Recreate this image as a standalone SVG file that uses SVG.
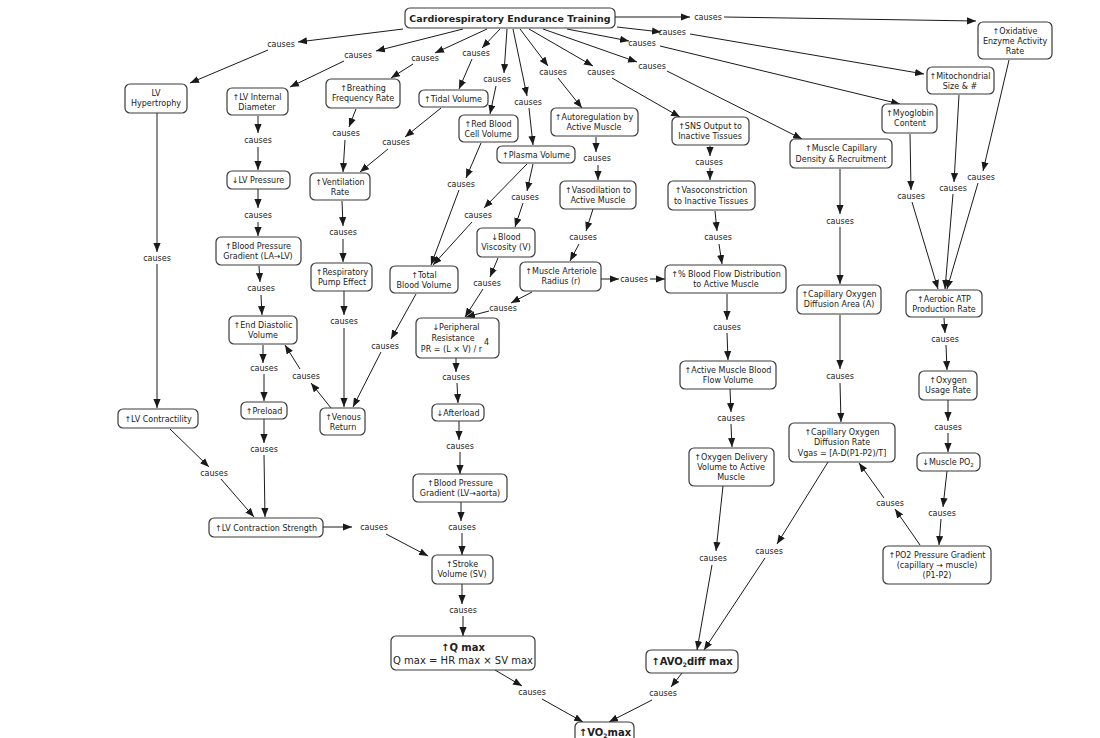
<svg xmlns="http://www.w3.org/2000/svg" width="1100" height="738" viewBox="0 0 1100 738">
<defs>
<marker id="ah" viewBox="0 0 10 8" refX="10" refY="4" markerWidth="9" markerHeight="7.5" orient="auto" markerUnits="userSpaceOnUse"><path d="M0,0 L10,4 L0,8 z" fill="#1a1a1a"/></marker>
<style>
text{font-family:"DejaVu Sans",Verdana,sans-serif;font-size:8px;fill:#222;text-anchor:middle}
.n rect{fill:#fff;stroke:#3a3a3a;stroke-width:1.2}
.b{font-weight:bold}
#connectors path{fill:none;stroke:#1a1a1a;stroke-width:1;marker-end:url(#ah)}
</style>
</defs>
<rect width="1100" height="738" fill="#fff"/>

<g id="connectors">
<g><path d="M615,17 L690,17"/><text x="708" y="20">causes</text><path d="M724,17 L976,21"/></g>
<g><path d="M617,27 L661,32"/><text x="672" y="35">causes</text><path d="M690,34 L924,74"/></g>
<g><path d="M567,29 L629,41"/><text x="642" y="46">causes</text><path d="M660,46 L900,104"/></g>
<g><path d="M543,29 L637,62"/><text x="652" y="69">causes</text><path d="M667,71 L802,139"/></g>
<g><path d="M529,29 L593,66"/><text x="601" y="75">causes</text><path d="M612,78 L680,117"/></g>
<g><path d="M520,29 L548,66"/><text x="553" y="75">causes</text><path d="M558,78 L582,108"/></g>
<g><path d="M513,29 L527,96"/><text x="528" y="105">causes</text><path d="M529,108 L533,145"/></g>
<g><path d="M507,29 L504,73"/><text x="497" y="82">causes</text><path d="M496,86 L490,114"/></g>
<g><path d="M500,29 L482,48"/><text x="476" y="56">causes</text><path d="M472,59 L459,89"/></g>
<g><path d="M487,29 L435,53"/><text x="425" y="61">causes</text><path d="M413,64 L391,78"/></g>
<g><path d="M463,29 L376,51"/><text x="358" y="58">causes</text><path d="M344,61 L290,87"/></g>
<g><path d="M403,29 L298,42"/><text x="281" y="47">causes</text><path d="M268,50 L190,83"/></g>

<g><path d="M258,116 L258,133"/><text x="258" y="143">causes</text><path d="M258,147 L258,170"/></g>
<g><path d="M258,189 L258,208"/><text x="258" y="218">causes</text><path d="M258,222 L258,236"/></g>
<g><path d="M259,266 L260,282"/><text x="261" y="291">causes</text><path d="M261,295 L262,315"/></g>
<g><path d="M263,345 L263,363"/><text x="264" y="371">causes</text><path d="M264,374 L264,401"/></g>
<g><path d="M264,419 L264,443"/><text x="264" y="452">causes</text><path d="M264,455 L265,517"/></g>
<g><path d="M331,408 L311,383"/><text x="306" y="379">causes</text><path d="M300,369 L285,345"/></g>
<g><path d="M157,113 L157,252"/><text x="157" y="261">causes</text><path d="M157,264 L157,408"/></g>
<g><path d="M170,429 L209,467"/><text x="214" y="476">causes</text><path d="M221,479 L254,517"/></g>
<g><path d="M323,527 L352,527"/><text x="374" y="530">causes</text><path d="M386,534 L428,556"/></g>

<g><path d="M356,109 L349,127"/><text x="346" y="136">causes</text><path d="M345,140 L343,172"/></g>
<g><path d="M441,108 L405,137"/><text x="396" y="145">causes</text><path d="M388,149 L360,172"/></g>
<g><path d="M342,201 L343,226"/><text x="343" y="235">causes</text><path d="M343,239 L343,262"/></g>
<g><path d="M344,291 L344,315"/><text x="344" y="324">causes</text><path d="M344,328 L344,407"/></g>
<g><path d="M416,294 L391,339"/><text x="385" y="349">causes</text><path d="M381,352 L353,407"/></g>
<g><path d="M481,143 L466,178"/><text x="461" y="187">causes</text><path d="M459,190 L431,265"/></g>
<g><path d="M527,164 L484,208"/><text x="478" y="218">causes</text><path d="M472,222 L433,265"/></g>
<g><path d="M533,164 L527,191"/><text x="525" y="200">causes</text><path d="M523,203 L515,227"/></g>
<g><path d="M498,258 L490,277"/><text x="487" y="286">causes</text><path d="M483,289 L465,317"/></g>
<g><path d="M532,292 L511,303"/><text x="503" y="311">causes</text><path d="M489,311 L466,317"/></g>
<g><path d="M593,209 L586,231"/><text x="583" y="240">causes</text><path d="M579,244 L570,261"/></g>
<g><path d="M601,279 L619,279"/><text x="634" y="282">causes</text><path d="M650,279 L665,279"/></g>
<g><path d="M596,137 L596,152"/><text x="597" y="161">causes</text><path d="M598,165 L598,180"/></g>
<g><path d="M710,146 L710,156"/><text x="709" y="165">causes</text><path d="M710,168 L710,180"/></g>
<g><path d="M715,211 L717,231"/><text x="718" y="240">causes</text><path d="M719,244 L722,264"/></g>
<g><path d="M727,294 L727,320"/><text x="727" y="330">causes</text><path d="M727,333 L728,360"/></g>
<g><path d="M730,389 L731,412"/><text x="731" y="421">causes</text><path d="M731,424 L732,447"/></g>
<g><path d="M723,486 L716,551"/><text x="713" y="561">causes</text><path d="M712,565 L697,650"/></g>
<g><path d="M828,462 L777,544"/><text x="769" y="554">causes</text><path d="M765,558 L704,650"/></g>
<g><path d="M840,169 L840,214"/><text x="840" y="224">causes</text><path d="M840,227 L840,284"/></g>
<g><path d="M840,315 L840,369"/><text x="840" y="379">causes</text><path d="M840,383 L841,422"/></g>
<g><path d="M920,545 L895,509"/><text x="890" y="506">causes</text><path d="M884,498 L859,463"/></g>
<g><path d="M944,318 L945,333"/><text x="945" y="342">causes</text><path d="M946,345 L947,370"/></g>
<g><path d="M948,400 L948,421"/><text x="948" y="430">causes</text><path d="M948,433 L948,452"/></g>
<g><path d="M947,471 L943,507"/><text x="942" y="516">causes</text><path d="M941,519 L939,545"/></g>
<g><path d="M910,134 L911,190"/><text x="911" y="199">causes</text><path d="M912,202 L938,289"/></g>
<g><path d="M959,95 L954,182"/><text x="953" y="191">causes</text><path d="M953,194 L945,289"/></g>
<g><path d="M1009,60 L983,171"/><text x="981" y="180">causes</text><path d="M978,183 L947,289"/></g>
<g><path d="M456,358 L456,372"/><text x="456" y="380">causes</text><path d="M457,383 L458,403"/></g>
<g><path d="M459,421 L459,440"/><text x="460" y="449">causes</text><path d="M460,452 L460,474"/></g>
<g><path d="M461,502 L461,521"/><text x="462" y="530">causes</text><path d="M462,533 L462,555"/></g>
<g><path d="M462,584 L462,604"/><text x="463" y="613">causes</text><path d="M463,616 L463,636"/></g>
<g><path d="M495,670 L522,686"/><text x="532" y="695">causes</text><path d="M542,699 L583,722"/></g>
<g><path d="M682,673 L671,687"/><text x="663" y="696">causes</text><path d="M652,700 L609,722"/></g>
</g>

<g id="n-title" class="n"><rect x="405" y="8" width="210" height="20" rx="5"/><text class="b" x="510" y="21.5" style="font-size:9.5px">Cardiorespiratory Endurance Training</text></g>
<g id="n-oxid" class="n"><rect x="978" y="22" width="74" height="37" rx="5"/><text x="1015" y="34">↑Oxidative</text><text x="1015" y="44">Enzyme Activity</text><text x="1015" y="54">Rate</text></g>
<g id="n-mito" class="n"><rect x="927" y="67" width="67" height="27" rx="5"/><text x="960" y="79">↑Mitochondrial</text><text x="960" y="89">Size &amp; #</text></g>
<g id="n-myo" class="n"><rect x="882" y="104" width="55" height="29" rx="5"/><text x="910" y="116">↑Myoglobin</text><text x="910" y="126">Content</text></g>
<g id="n-mcap" class="n"><rect x="790" y="139" width="102" height="29" rx="5"/><text x="841" y="151">↑Muscle Capillary</text><text x="841" y="162">Density &amp; Recruitment</text></g>
<g id="n-sns" class="n"><rect x="672" y="117" width="77" height="28" rx="5"/><text x="710" y="129">↑SNS Output to</text><text x="710" y="139">Inactive Tissues</text></g>
<g id="n-auto" class="n"><rect x="551" y="108" width="87" height="28" rx="5"/><text x="594" y="120">↑Autoregulation by</text><text x="594" y="130">Active Muscle</text></g>
<g id="n-vasod" class="n"><rect x="560" y="181" width="76" height="28" rx="5"/><text x="598" y="193">↑Vasodilation to</text><text x="598" y="203">Active Muscle</text></g>
<g id="n-vasoc" class="n"><rect x="668" y="181" width="87" height="29" rx="5"/><text x="711" y="193">↑Vasoconstriction</text><text x="711" y="204">to Inactive Tissues</text></g>
<g id="n-plasma" class="n"><rect x="497" y="146" width="78" height="17" rx="5"/><text x="536" y="157.5">↑Plasma Volume</text></g>
<g id="n-rbc" class="n"><rect x="459" y="115" width="59" height="27" rx="5"/><text x="488" y="127">↑Red Blood</text><text x="488" y="137">Cell Volume</text></g>
<g id="n-tidal" class="n"><rect x="419" y="90" width="69" height="17" rx="5"/><text x="453" y="101.5">↑Tidal Volume</text></g>
<g id="n-breath" class="n"><rect x="326" y="79" width="74" height="29" rx="5"/><text x="363" y="91">↑Breathing</text><text x="363" y="101">Frequency Rate</text></g>
<g id="n-lvid" class="n"><rect x="227" y="88" width="61" height="27" rx="5"/><text x="257" y="100">↑LV Internal</text><text x="257" y="110">Diameter</text></g>
<g id="n-lvh" class="n"><rect x="125" y="84" width="62" height="29" rx="5"/><text x="156" y="96">LV</text><text x="156" y="106">Hypertrophy</text></g>
<g id="n-lvp" class="n"><rect x="227" y="171" width="63" height="18" rx="5"/><text x="258" y="183">↓LV Pressure</text></g>
<g id="n-vent" class="n"><rect x="310" y="173" width="60" height="27" rx="5"/><text x="340" y="185">↑Ventilation</text><text x="340" y="195">Rate</text></g>
<g id="n-bpg1" class="n"><rect x="216" y="237" width="85" height="28" rx="5"/><text x="258" y="249">↑Blood Pressure</text><text x="258" y="259">Gradient (LA→LV)</text></g>
<g id="n-resp" class="n"><rect x="311" y="263" width="61" height="28" rx="5"/><text x="342" y="275">↑Respiratory</text><text x="342" y="285">Pump Effect</text></g>
<g id="n-tbv" class="n"><rect x="390" y="266" width="68" height="27" rx="5"/><text x="424" y="278">↑Total</text><text x="424" y="288">Blood Volume</text></g>
<g id="n-visc" class="n"><rect x="477" y="228" width="58" height="29" rx="5"/><text x="506" y="240">↓Blood</text><text x="506" y="250">Viscosity (V)</text></g>
<g id="n-mar" class="n"><rect x="520" y="262" width="81" height="29" rx="5"/><text x="561" y="274">↑Muscle Arteriole</text><text x="561" y="284">Radius (r)</text></g>
<g id="n-bfd" class="n"><rect x="665" y="265" width="121" height="28" rx="5"/><text x="726" y="277">↑% Blood Flow Distribution</text><text x="726" y="287">to Active Muscle</text></g>
<g id="n-cda" class="n"><rect x="797" y="285" width="84" height="29" rx="5"/><text x="839" y="297">↑Capillary Oxygen</text><text x="839" y="307">Diffusion Area (A)</text></g>
<g id="n-atp" class="n"><rect x="906" y="290" width="76" height="27" rx="5"/><text x="944" y="302">↑Aerobic ATP</text><text x="944" y="312">Production Rate</text></g>
<g id="n-edv" class="n"><rect x="229" y="316" width="68" height="28" rx="5"/><text x="263" y="328">↑End Diastolic</text><text x="263" y="338">Volume</text></g>
<g id="n-pr" class="n"><rect x="416" y="318" width="83" height="40" rx="5"/><text x="456" y="330">↓Peripheral</text><text x="453" y="341">Resistance</text><text x="455" y="352">PR = (L × V) / r<tspan dx="2" dy="-7">4</tspan></text></g>
<g id="n-amb" class="n"><rect x="680" y="361" width="96" height="28" rx="5"/><text x="728" y="373">↑Active Muscle Blood</text><text x="728" y="383">Flow Volume</text></g>
<g id="n-o2u" class="n"><rect x="919" y="371" width="58" height="29" rx="5"/><text x="948" y="383">↑Oxygen</text><text x="948" y="393">Usage Rate</text></g>
<g id="n-lvc" class="n"><rect x="118" y="409" width="80" height="19" rx="5"/><text x="158" y="421.5">↑LV Contractility</text></g>
<g id="n-preload" class="n"><rect x="241" y="402" width="46" height="17" rx="5"/><text x="264" y="413.5">↑Preload</text></g>
<g id="n-vr" class="n"><rect x="320" y="408" width="45" height="27" rx="5"/><text x="343" y="420">↑Venous</text><text x="343" y="430">Return</text></g>
<g id="n-afterload" class="n"><rect x="432" y="404" width="52" height="17" rx="5"/><text x="458" y="415.5">↓Afterload</text></g>
<g id="n-cdr" class="n"><rect x="789" y="423" width="106" height="39" rx="5"/><text x="842" y="435">↑Capillary Oxygen</text><text x="842" y="445">Diffusion Rate</text><text x="842" y="456">Vgas = [A-D(P1-P2)/T]</text></g>
<g id="n-o2d" class="n"><rect x="689" y="448" width="85" height="38" rx="5"/><text x="731" y="460">↑Oxygen Delivery</text><text x="731" y="470">Volume to Active</text><text x="731" y="480">Muscle</text></g>
<g id="n-mpo2" class="n"><rect x="917" y="453" width="63" height="18" rx="5"/><text x="948" y="465">↓Muscle PO<tspan dy="2" style="font-size:5.5px">2</tspan></text></g>
<g id="n-bpg2" class="n"><rect x="413" y="474" width="94" height="28" rx="5"/><text x="460" y="486">↑Blood Pressure</text><text x="460" y="496">Gradient (LV→aorta)</text></g>
<g id="n-lvcs" class="n"><rect x="209" y="518" width="114" height="19" rx="5"/><text x="266" y="530.5">↑LV Contraction Strength</text></g>
<g id="n-po2g" class="n"><rect x="883" y="546" width="108" height="38" rx="5"/><text x="937" y="558">↑PO2 Pressure Gradient</text><text x="937" y="568">(capillary → muscle)</text><text x="937" y="578">(P1-P2)</text></g>
<g id="n-sv" class="n"><rect x="432" y="555" width="61" height="29" rx="5"/><text x="462" y="567">↑Stroke</text><text x="462" y="577">Volume (SV)</text></g>
<g id="n-qmax" class="n"><rect x="391" y="636" width="144" height="34" rx="5"/><text class="b" x="463" y="651" style="font-size:10px">↑Q max</text><text x="463" y="664" style="font-size:10px">Q max = HR max × SV max</text></g>
<g id="n-avo2" class="n"><rect x="646" y="650" width="92" height="23" rx="5"/><text class="b" x="692" y="665" style="font-size:10px">↑AVO<tspan dy="2" style="font-size:6px">2</tspan><tspan dy="-2">diff max</tspan></text></g>
<g id="n-vo2" class="n"><rect x="575" y="722" width="59" height="22" rx="5"/><text class="b" x="605" y="736" style="font-size:10px">↑VO<tspan dy="2" style="font-size:6px">2</tspan><tspan dy="-2">max</tspan></text></g>
</svg>
